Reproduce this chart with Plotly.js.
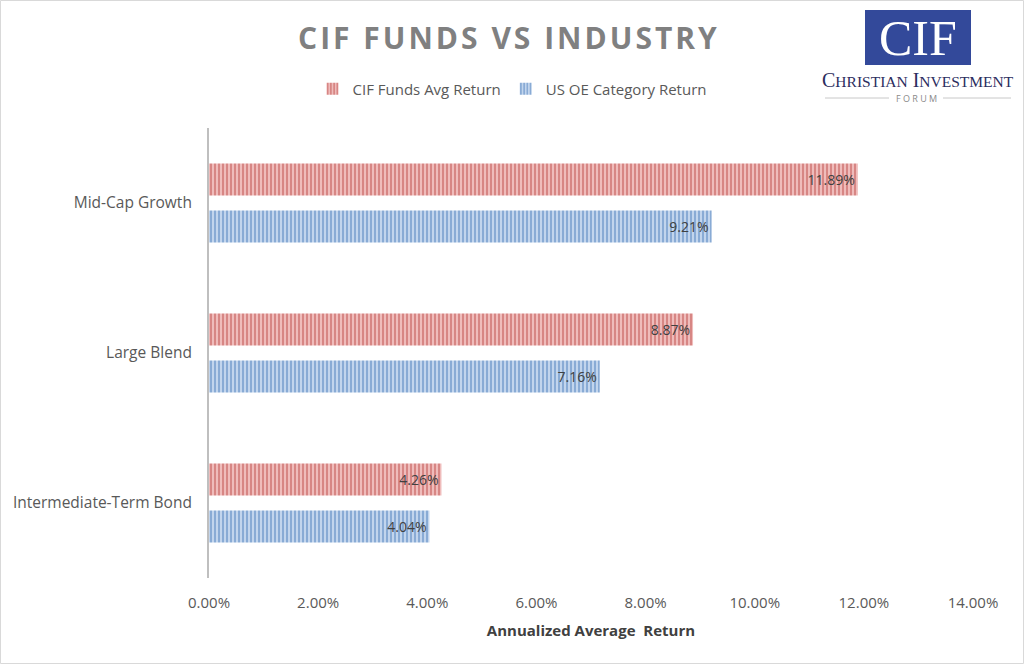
<!DOCTYPE html>
<html>
<head>
<meta charset="utf-8">
<script src="https://cdn.plot.ly/plotly-3.0.1.min.js"></script>
<style>
html,body{margin:0;padding:0;background:#fff;}
#chart{width:1024px;height:664px;}
</style>
</head>
<body>
<div id="chart"></div>
<script>
// Data
var categories = ["Mid-Cap Growth", "Large Blend", "Intermediate-Term Bond"];
var cifReturns = [0.1189, 0.0887, 0.0426];
var industryReturns = [0.0921, 0.0716, 0.0404];
var seriesNames = ["CIF Funds Avg Return", "US OE Category Return"];
var tickValues = [0, 0.02, 0.04, 0.06, 0.08, 0.10, 0.12, 0.14];

// layout geometry (pixels)
var W = 1024, H = 664;
var L = 209, R = 51, T = 128, B = 86;
var pw = W - L - R, ph = H - T - B;
function px(x){ return (x - L) / pw; }
function py(y){ return (H - B - y) / ph; }

var labelFont = {family: "Open Sans, sans-serif", size: 14, color: "#404040"};

var traces = [
  {
    type: "bar", orientation: "h", name: seriesNames[0],
    y: categories, x: cifReturns,
    texttemplate: "%{x:.2%}", textposition: "inside", insidetextanchor: "end",
    textfont: labelFont, hoverinfo: "x+y",
    marker: {color: "#d98684", line: {width: 0},
      pattern: {shape: "|", fgcolor: "#c0504d", bgcolor: "#efbcbb", size: 4, solidity: 0.5, fillmode: "overlay"}}
  },
  {
    type: "bar", orientation: "h", name: seriesNames[1],
    y: categories, x: industryReturns,
    texttemplate: "%{x:.2%}", textposition: "inside", insidetextanchor: "end",
    textfont: labelFont, hoverinfo: "x+y",
    marker: {color: "#88aad6", line: {width: 0},
      pattern: {shape: "|", fgcolor: "#4f81bd", bgcolor: "#c2d5ed", size: 4, solidity: 0.5, fillmode: "overlay"}}
  }
];

var shapes = [
  // outer border
  {type: "rect", xref: "paper", yref: "paper", x0: px(0.5), x1: px(W - 0.5), y0: py(0.5), y1: py(H - 0.5),
   line: {color: "#d9d9d9", width: 1}, fillcolor: "rgba(0,0,0,0)", layer: "below"},
  // logo box
  {type: "rect", xref: "paper", yref: "paper", x0: px(865), x1: px(971), y0: py(10), y1: py(65),
   line: {width: 0}, fillcolor: "#33499a", layer: "above"},
  // forum lines
  {type: "line", xref: "paper", yref: "paper", x0: px(825), x1: px(889), y0: py(98), y1: py(98),
   line: {color: "#c8c8c8", width: 1}},
  {type: "line", xref: "paper", yref: "paper", x0: px(943), x1: px(1011), y0: py(98), y1: py(98),
   line: {color: "#c8c8c8", width: 1}}
];

var annotations = [
  {xref: "paper", yref: "paper", x: px(918), y: py(38), text: "CIF", showarrow: false,
   font: {family: "Liberation Serif, DejaVu Serif, serif", size: 50, color: "#ffffff"}, xanchor: "center", yanchor: "middle"},
  {xref: "paper", yref: "paper", x: px(918), y: py(80),
   text: "C<span style='font-size:15.5px'>HRISTIAN</span> I<span style='font-size:15.5px'>NVESTMENT</span>",
   showarrow: false, font: {family: "Liberation Serif, DejaVu Serif, serif", size: 20, color: "#2b2d5e"},
   xanchor: "center", yanchor: "middle"},
  {xref: "paper", yref: "paper", x: px(916), y: py(98), text: "F O R U M", showarrow: false,
   font: {family: "Open Sans, sans-serif", size: 9, color: "#8a8a8a"}, xanchor: "center", yanchor: "middle"}
];

var layout = {
  width: W, height: H,
  margin: {l: L, r: R, t: T, b: B, pad: 0},
  paper_bgcolor: "#ffffff", plot_bgcolor: "#ffffff",
  title: {text: "<b><span style='letter-spacing:3px'>CIF FUNDS VS INDUSTRY</span></b>", xref: "container", x: 0.497, y: 1 - 38 / H,
    xanchor: "center", yanchor: "middle",
    font: {family: "Open Sans, sans-serif", size: 30, color: "#808080"}},
  barmode: "group", bargap: 0.373, bargroupgap: 0.32,
  showlegend: true,
  legend: {orientation: "h", x: px(512), y: py(89), xanchor: "center", yanchor: "middle",
    font: {family: "Open Sans, sans-serif", size: 15, color: "#595959"}, traceorder: "normal",
    itemwidth: 30, tracegroupgap: 0},
  xaxis: {
    range: [0, 0.14], tickvals: tickValues, tickformat: ".2%",
    showgrid: false, zeroline: false, showline: false, ticks: "",
    tickfont: {family: "Liberation Sans Narrow, Open Sans, sans-serif", size: 15, color: "#595959"},
    ticklabelstandoff: 14,
    title: {text: "<b>Annualized Average  Return</b>", standoff: 14,
      font: {family: "Liberation Sans Narrow, Open Sans, sans-serif", size: 15, color: "#404040"}}
  },
  yaxis: {
    type: "category", autorange: "reversed",
    showgrid: false, zeroline: false, showline: true, linecolor: "#bfbfbf", linewidth: 2,
    ticks: "", ticklabelstandoff: 12,
    tickfont: {family: "Open Sans, sans-serif", size: 15.5, color: "#595959"}
  },
  shapes: shapes,
  annotations: annotations
};

Plotly.newPlot("chart", traces, layout, {displayModeBar: false, responsive: false});
</script>
</body>
</html>
